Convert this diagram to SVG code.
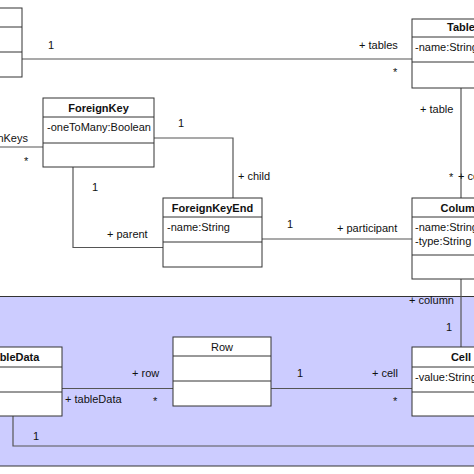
<svg xmlns="http://www.w3.org/2000/svg" width="474" height="474" viewBox="0 0 474 474">
<style>
text{font-family:"Liberation Sans",Arial,sans-serif;font-size:11px;fill:#111}
.t{font-weight:bold}
.m{text-anchor:middle}
.e{text-anchor:end}
.box{fill:#fff;stroke:#333;stroke-width:1}
.div{stroke:#333;stroke-width:1}
.c{fill:none;stroke:#555;stroke-width:1.2}
</style>
<rect x="-5" y="296.5" width="484" height="169.5" fill="#ccccff" stroke="#333" stroke-width="1"/>
<g id="connectors">
<polyline class="c" points="22,59 412,59"/>
<polyline class="c" points="461,88 461,198"/>
<polyline class="c" points="0,147 43,147"/>
<polyline class="c" points="154,138 233,138 233,198"/>
<polyline class="c" points="73,167 73,247.5 163,247.5"/>
<polyline class="c" points="262,239 412,239"/>
<polyline class="c" points="461,279 461,347"/>
<polyline class="c" points="62,388.5 173,388.5"/>
<polyline class="c" points="271,388.5 412,388.5"/>
<polyline class="c" points="13,416 13,446 480,446"/>
</g>
<g id="labels">
<text x="48" y="49">1</text>
<text x="359" y="49">+ tables</text>
<text x="393" y="76">*</text>
<text x="420" y="113">+ table</text>
<text x="449" y="181">*</text>
<text x="458" y="180">+ columns</text>
<text class="e" x="28" y="142">+ foreignKeys</text>
<text x="24" y="165">*</text>
<text x="178" y="127">1</text>
<text x="238" y="180">+ child</text>
<text x="92" y="191">1</text>
<text x="107" y="238">+ parent</text>
<text x="287" y="228">1</text>
<text x="337" y="232">+ participant</text>
<text x="409" y="304">+ column</text>
<text x="446" y="331">1</text>
<text x="132" y="377">+ row</text>
<text x="65" y="403">+ tableData</text>
<text x="153" y="405">*</text>
<text x="297" y="377">1</text>
<text x="372" y="377">+ cell</text>
<text x="393" y="405">*</text>
<text x="33" y="440">1</text>
</g>
<g id="Schema">
<rect class="box" x="-10" y="8" width="32" height="69"/>
<line class="div" x1="-10" y1="27" x2="22" y2="27"/>
<line class="div" x1="-10" y1="52" x2="22" y2="52"/>
</g>
<g id="Table">
<rect class="box" x="412" y="19" width="100" height="69"/>
<line class="div" x1="412" y1="37" x2="512" y2="37"/>
<line class="div" x1="412" y1="62" x2="512" y2="62"/>
<text class="t m" x="461" y="31">Table</text>
<text x="415" y="51">-name:String</text>
</g>
<g id="ForeignKey">
<rect class="box" x="43" y="98" width="111" height="69"/>
<line class="div" x1="43" y1="117" x2="154" y2="117"/>
<line class="div" x1="43" y1="143" x2="154" y2="143"/>
<text class="t m" x="98.5" y="112">ForeignKey</text>
<text x="47" y="131">-oneToMany:Boolean</text>
</g>
<g id="ForeignKeyEnd">
<rect class="box" x="163" y="198" width="99" height="69"/>
<line class="div" x1="163" y1="217" x2="262" y2="217"/>
<line class="div" x1="163" y1="242" x2="262" y2="242"/>
<text class="t m" x="212.5" y="212">ForeignKeyEnd</text>
<text x="167" y="231">-name:String</text>
</g>
<g id="Column">
<rect class="box" x="412" y="198" width="100" height="81"/>
<line class="div" x1="412" y1="217" x2="512" y2="217"/>
<line class="div" x1="412" y1="255" x2="512" y2="255"/>
<text class="t m" x="461" y="212">Column</text>
<text x="415" y="231">-name:String</text>
<text x="415" y="245">-type:String</text>
</g>
<g id="TableData">
<rect class="box" x="-40" y="347" width="102" height="69"/>
<line class="div" x1="-40" y1="367" x2="62" y2="367"/>
<line class="div" x1="-40" y1="392" x2="62" y2="392"/>
<text class="t m" x="13.5" y="361">TableData</text>
</g>
<g id="Row">
<rect class="box" x="173" y="337" width="98" height="69"/>
<line class="div" x1="173" y1="356" x2="271" y2="356"/>
<line class="div" x1="173" y1="381" x2="271" y2="381"/>
<text class="m" x="222" y="351">Row</text>
</g>
<g id="Cell">
<rect class="box" x="412" y="347" width="100" height="69"/>
<line class="div" x1="412" y1="367" x2="512" y2="367"/>
<line class="div" x1="412" y1="392" x2="512" y2="392"/>
<text class="t m" x="461" y="361">Cell</text>
<text x="415" y="381">-value:String</text>
</g>
</svg>
